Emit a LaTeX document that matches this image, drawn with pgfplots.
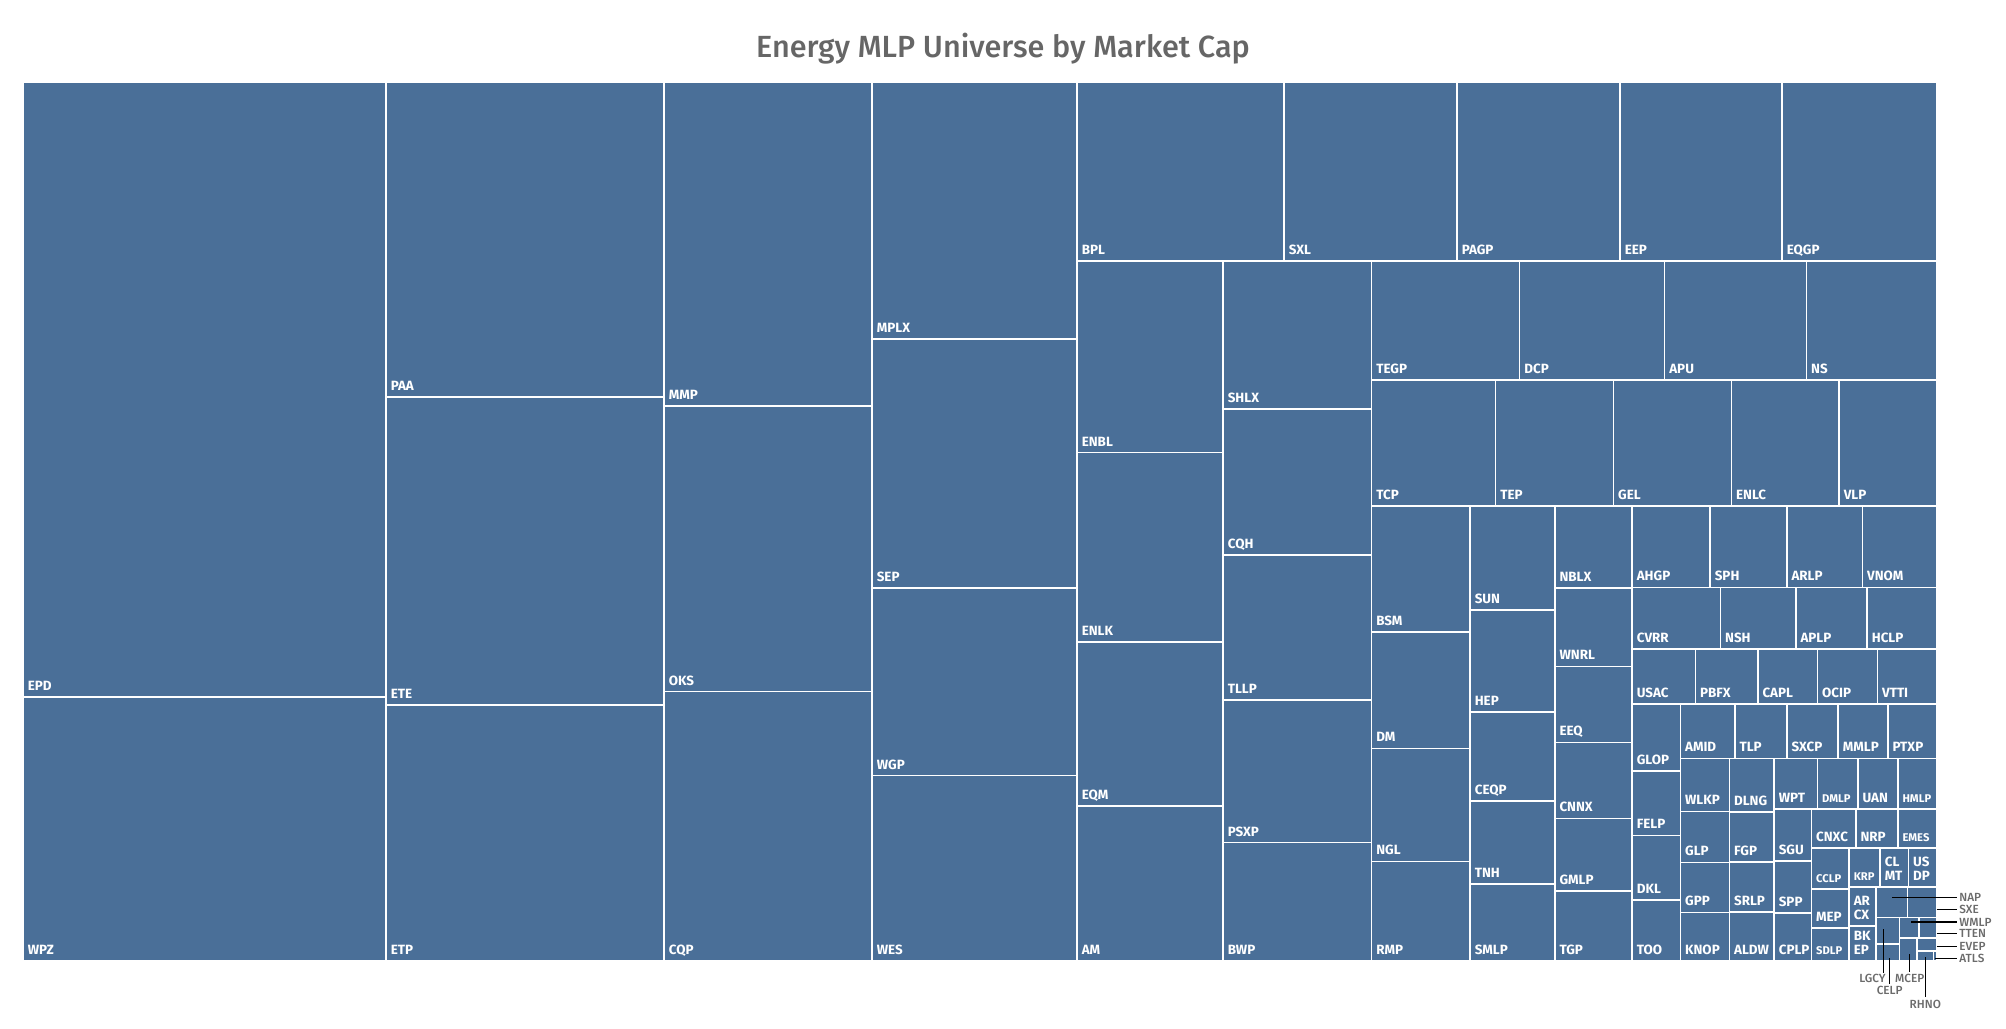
\documentclass[border=0pt]{standalone}
\usepackage{fontspec}
\setmainfont{Fira Sans}
\newfontfamily\titlefont{Fira Sans Medium}
\usepackage{pgfplots}
\pgfplotsset{compat=1.18}

\definecolor{tilec}{HTML}{4A6F98}
\definecolor{titlec}{HTML}{666666}
\definecolor{notec}{HTML}{6B6B6B}

\tikzset{
  tile/.style={fill=tilec, draw=white, line width=0.8pt},
  lab/.style={anchor=base west, inner sep=0pt, xshift=2.2pt, yshift=3.2pt,
    text=white, font=\fontsize{6.7}{7}\selectfont\bfseries},
  note/.style={inner sep=0pt, text=notec, font=\titlefont\fontsize{5.9}{6}\selectfont},
}
% one treemap cell: x0, y0, x1, y1 (pixel units, y downwards), name
\newcommand{\tile}[5]{%
  \addplot[tile] coordinates {(#1,#2) (#3,#2) (#3,#4) (#1,#4)} -- cycle;
  \node[lab] at (axis cs:#1,#4) {#5};
}
\newcommand{\sm}[1]{{\fontsize{5.6}{6}\selectfont #1}}
\newcommand{\two}[2]{\vbox{\hbox{#1}\hbox{#2}}}

\begin{document}
\begin{tikzpicture}
\begin{axis}[
    width=1003pt, height=514pt, scale only axis,
    xmin=0, xmax=2006, ymin=0, ymax=1028,
    y dir=reverse,
    hide axis,
    clip=false,
]
\path (rel axis cs:0,0) rectangle (rel axis cs:1,1);

\node[anchor=base, text=titlec, font=\titlefont\fontsize{15.3}{17}\selectfont]
  at (axis cs:1003,57) {Energy MLP Universe by Market Cap};

% large columns
\tile{23}{82}{386}{697}{EPD}
\tile{23}{697}{386}{961}{WPZ}
\tile{386}{82}{664}{397}{PAA}
\tile{386}{397}{664}{705}{ETE}
\tile{386}{705}{664}{961}{ETP}
\tile{664}{82}{872}{406}{MMP}
\tile{664}{406}{872}{691.5}{OKS}
\tile{664}{691.5}{872}{961}{CQP}
\tile{872}{82}{1077}{339}{MPLX}
\tile{872}{339}{1077}{588}{SEP}
\tile{872}{588}{1077}{775.5}{WGP}
\tile{872}{775.5}{1077}{961}{WES}
% top row
\tile{1077}{82}{1284}{261}{BPL}
\tile{1284}{82}{1457}{261}{SXL}
\tile{1457}{82}{1620}{261}{PAGP}
\tile{1620}{82}{1782}{261}{EEP}
\tile{1782}{82}{1937}{261}{EQGP}
\tile{1077}{261}{1223}{452.6}{ENBL}
\tile{1077}{452.6}{1223}{642}{ENLK}
\tile{1077}{642}{1223}{806}{EQM}
\tile{1077}{806}{1223}{961}{AM}
\tile{1223}{261}{1371.5}{409}{SHLX}
\tile{1223}{409}{1371.5}{555}{CQH}
\tile{1223}{555}{1371.5}{700}{TLLP}
\tile{1223}{700}{1371.5}{842.5}{PSXP}
\tile{1223}{842.5}{1371.5}{961}{BWP}
\tile{1371.5}{261}{1519.5}{380}{TEGP}
\tile{1519.5}{261}{1664.5}{380}{DCP}
\tile{1664.5}{261}{1806.3}{380}{APU}
\tile{1806.3}{261}{1937}{380}{NS}
\tile{1371.5}{380}{1495.6}{506}{TCP}
\tile{1495.6}{380}{1613.4}{506}{TEP}
\tile{1613.4}{380}{1731.3}{506}{GEL}
\tile{1731.3}{380}{1839}{506}{ENLC}
\tile{1839}{380}{1937}{506}{VLP}
% lower right block
\tile{1371.5}{506}{1470}{631.7}{BSM}
\tile{1371.5}{631.7}{1470}{748.3}{DM}
\tile{1371.5}{748.3}{1470}{861.3}{NGL}
\tile{1371.5}{861.3}{1470}{961}{RMP}
\tile{1470}{506}{1554.7}{609.7}{SUN}
\tile{1470}{609.7}{1554.7}{711.7}{HEP}
\tile{1470}{711.7}{1554.7}{801}{CEQP}
\tile{1470}{801}{1554.7}{884}{TNH}
\tile{1470}{884}{1554.7}{961}{SMLP}
\tile{1554.7}{506}{1632}{587.7}{NBLX}
\tile{1554.7}{587.7}{1632}{666.3}{WNRL}
\tile{1554.7}{666.3}{1632}{742.3}{EEQ}
\tile{1554.7}{742.3}{1632}{818.3}{CNNX}
\tile{1554.7}{818.3}{1632}{890.7}{GMLP}
\tile{1554.7}{890.7}{1632}{961}{TGP}
\tile{1632}{506}{1710}{587.3}{AHGP}
\tile{1710}{506}{1786.7}{587.3}{SPH}
\tile{1786.7}{506}{1862.3}{587.3}{ARLP}
\tile{1862.3}{506}{1937}{587.3}{VNOM}
\tile{1632}{587.3}{1720.3}{648.7}{CVRR}
\tile{1720.3}{587.3}{1795.7}{648.7}{NSH}
\tile{1795.7}{587.3}{1867}{648.7}{APLP}
\tile{1867}{587.3}{1937}{648.7}{HCLP}
\tile{1632}{648.7}{1695.3}{703.7}{USAC}
\tile{1695.3}{648.7}{1757.7}{703.7}{PBFX}
\tile{1757.7}{648.7}{1817.3}{703.7}{CAPL}
\tile{1817.3}{648.7}{1877.3}{703.7}{OCIP}
\tile{1877.3}{648.7}{1937}{703.7}{VTTI}
\tile{1632}{703.7}{1680.3}{770.7}{GLOP}
\tile{1632}{770.7}{1680.3}{835.3}{FELP}
\tile{1632}{835.3}{1680.3}{900}{DKL}
\tile{1632}{900}{1680.3}{961}{TOO}
\tile{1680.3}{703.7}{1734.7}{758.3}{AMID}
\tile{1734.7}{703.7}{1786.7}{758.3}{TLP}
\tile{1786.7}{703.7}{1838}{758.3}{SXCP}
\tile{1838}{703.7}{1887.7}{758.3}{MMLP}
\tile{1887.7}{703.7}{1937}{758.3}{PTXP}
\tile{1680.3}{758.3}{1729.3}{811.3}{WLKP}
\tile{1680.3}{811.3}{1729.3}{862.3}{GLP}
\tile{1680.3}{862.3}{1729.3}{912.3}{GPP}
\tile{1680.3}{912.3}{1729.3}{961}{KNOP}
\tile{1729.3}{758.3}{1774}{812}{DLNG}
\tile{1729.3}{812}{1774}{861.7}{FGP}
\tile{1729.3}{861.7}{1774}{911.7}{SRLP}
\tile{1729.3}{911.7}{1774}{961}{ALDW}
\tile{1774}{758.3}{1817.3}{809}{WPT}
\tile{1817.3}{758.3}{1857.7}{809}{\sm{DMLP}}
\tile{1857.7}{758.3}{1897.7}{809}{UAN}
\tile{1897.7}{758.3}{1937}{809}{\sm{HMLP}}
\tile{1774}{809}{1811.3}{860.7}{SGU}
\tile{1774}{860.7}{1811.3}{913}{SPP}
\tile{1774}{913}{1811.3}{961}{CPLP}
\tile{1811.3}{809}{1855.7}{848}{CNXC}
\tile{1855.7}{809}{1897.7}{848}{NRP}
\tile{1897.7}{809}{1937}{848}{\sm{EMES}}
\tile{1811.3}{848}{1849}{889}{\sm{CCLP}}
\tile{1811.3}{889}{1849}{927.7}{MEP}
\tile{1811.3}{927.7}{1849}{961}{\sm{SDLP}}
\tile{1849}{848}{1880}{887}{\sm{KRP}}
\tile{1880}{848}{1908.3}{887}{\two{CL}{MT}}
\tile{1908.3}{848}{1937}{887}{\two{US}{DP}}
\tile{1849}{887}{1876}{925.7}{\two{AR}{CX}}
\tile{1849}{925.7}{1876}{961}{\two{BK}{EP}}
% smallest cells, named by call-outs
\tile{1876}{887}{1907.5}{917.5}{}
\tile{1907.5}{887}{1937}{917.5}{}
\tile{1876}{917.5}{1899.5}{943.8}{}
\tile{1876}{943.8}{1899.5}{961}{}
\tile{1899.5}{917.5}{1918.8}{937.8}{}
\tile{1918.8}{917.5}{1937}{937.8}{}
\tile{1899.5}{937.8}{1916.8}{961}{}
\tile{1916.8}{937.8}{1937}{951.2}{}
\tile{1916.8}{951.2}{1933.5}{961}{}
\tile{1933.5}{951.2}{1937}{961}{}

% call-outs
\addplot[black, line width=0.7pt] coordinates {(1892.3,897.3) (1956.7,897.3)};
\addplot[black, line width=0.7pt] coordinates {(1936.7,909.7) (1956.7,909.7)};
\addplot[black, line width=0.7pt] coordinates {(1911,922) (1956.7,922)};
\addplot[black, line width=0.7pt] coordinates {(1936.7,933.7) (1956.7,933.7)};
\addplot[black, line width=0.7pt] coordinates {(1936.7,946.3) (1956.7,946.3)};
\addplot[black, line width=0.7pt] coordinates {(1935,958.3) (1956.7,958.3)};
\addplot[black, line width=0.7pt] coordinates {(1883.7,929.3) (1883.7,972.7)};
\addplot[black, line width=0.7pt] coordinates {(1889.7,958.3) (1889.7,984)};
\addplot[black, line width=0.7pt] coordinates {(1909.7,954) (1909.7,971.7)};
\addplot[black, line width=0.7pt] coordinates {(1925.3,957.3) (1925.3,997.3)};
\node[note, anchor=west] at (axis cs:1959,897.3) {NAP};
\node[note, anchor=west] at (axis cs:1959,909.7) {SXE};
\node[note, anchor=west] at (axis cs:1959,922) {WMLP};
\node[note, anchor=west] at (axis cs:1959,933.7) {TTEN};
\node[note, anchor=west] at (axis cs:1959,946.3) {EVEP};
\node[note, anchor=west] at (axis cs:1959,958.3) {ATLS};
\node[note, anchor=north east] at (axis cs:1886,974) {LGCY};
\node[note, anchor=north] at (axis cs:1889.7,986) {CELP};
\node[note, anchor=north] at (axis cs:1909.7,974) {MCEP};
\node[note, anchor=north] at (axis cs:1925.3,1000) {RHNO};
\end{axis}
\end{tikzpicture}
\end{document}
